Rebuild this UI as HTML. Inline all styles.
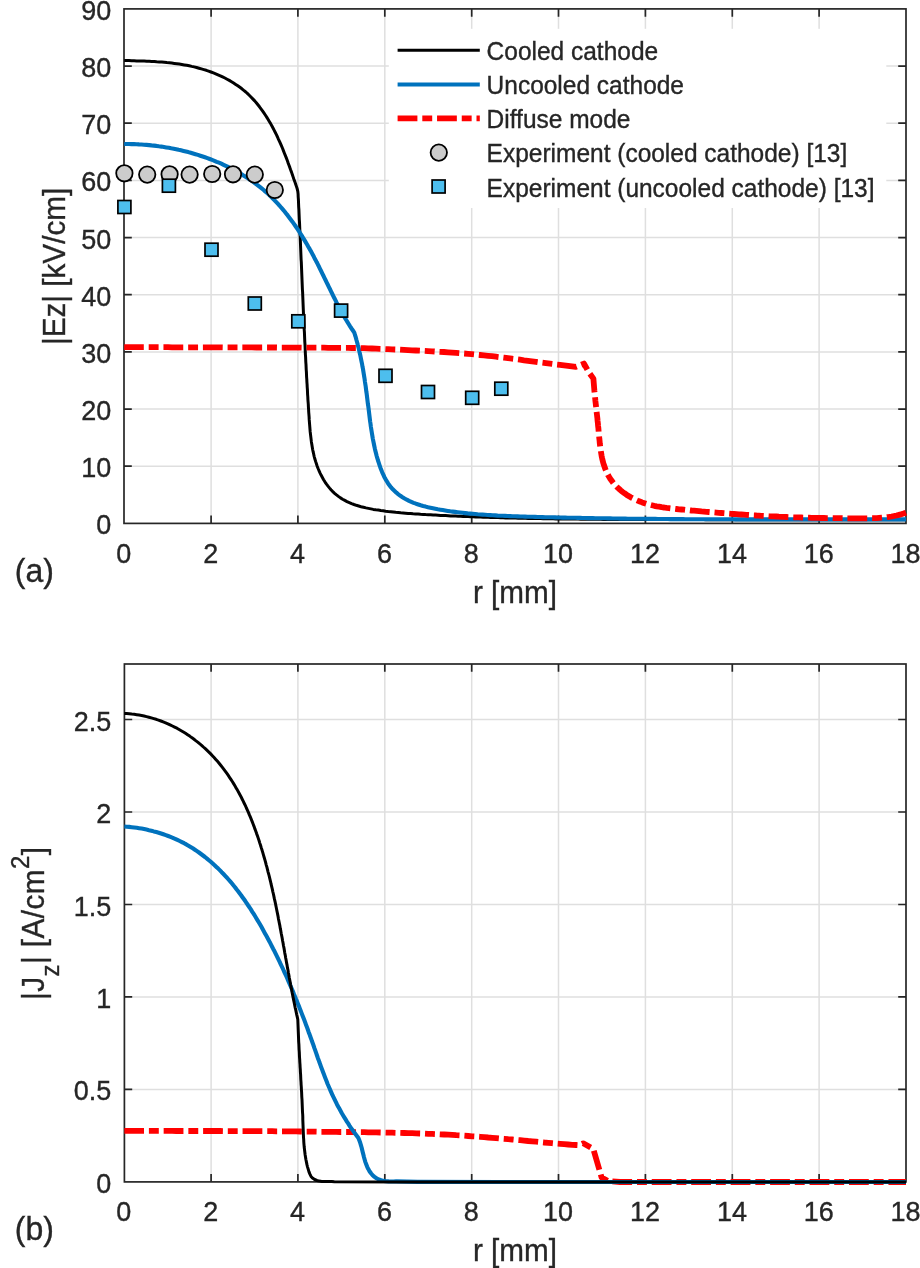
<!DOCTYPE html>
<html lang="en"><head><meta charset="utf-8"><title>Cathode field and current density</title>
<style>html,body{margin:0;padding:0;background:#fff}body{width:920px;height:1268px;overflow:hidden}svg{display:block}text{font-family:"Liberation Sans", sans-serif;fill:#262626;stroke:#262626;stroke-width:.35px}</style></head><body>
<svg width="920" height="1268" viewBox="0 0 920 1268">
<rect width="920" height="1268" fill="#fff"/>
<path d="M211.1 8.9V523.4M297.9 8.9V523.4M384.8 8.9V523.4M471.7 8.9V523.4M558.5 8.9V523.4M645.4 8.9V523.4M732.3 8.9V523.4M819.1 8.9V523.4M124.2 466.2H906M124.2 409.1H906M124.2 351.9H906M124.2 294.7H906M124.2 237.6H906M124.2 180.4H906M124.2 123.2H906M124.2 66.1H906" stroke="#dfdfdf" stroke-width="1.5" fill="none"/>
<clipPath id="ca"><rect x="124.2" y="8.9" width="783" height="514.5"/></clipPath>
<rect x="388.8" y="28.8" width="497.5" height="179.2" fill="#fff"/>
<path d="M211.1 523.4v-7.8M211.1 8.9v7.8M297.9 523.4v-7.8M297.9 8.9v7.8M384.8 523.4v-7.8M384.8 8.9v7.8M471.7 523.4v-7.8M471.7 8.9v7.8M558.5 523.4v-7.8M558.5 8.9v7.8M645.4 523.4v-7.8M645.4 8.9v7.8M732.3 523.4v-7.8M732.3 8.9v7.8M819.1 523.4v-7.8M819.1 8.9v7.8M124 466.2h7.8M906 466.2h-7.8M124 409.1h7.8M906 409.1h-7.8M124 351.9h7.8M906 351.9h-7.8M124 294.7h7.8M906 294.7h-7.8M124 237.6h7.8M906 237.6h-7.8M124 180.4h7.8M906 180.4h-7.8M124 123.2h7.8M906 123.2h-7.8M124 66.1h7.8M906 66.1h-7.8" stroke="#262626" stroke-width="1.7" fill="none"/>
<rect x="124" y="8.9" width="782" height="514.5" fill="none" stroke="#262626" stroke-width="1.7"/>
<g clip-path="url(#ca)" fill="none" stroke-linejoin="round">
<path d="M124 60.5L126.5 60.6L129 60.6L131.6 60.7L134.1 60.8L136.6 60.9L139.1 61L141.6 61L144.2 61.1L146.7 61.2L149.2 61.3L151.7 61.5L154.2 61.6L156.7 61.8L159.2 61.9L161.8 62.1L164.3 62.3L166.8 62.6L169.3 62.8L171.8 63.1L174.3 63.4L176.8 63.7L179.3 64.1L181.8 64.5L184.3 64.9L186.7 65.3L189.2 65.8L191.7 66.4L194.1 66.9L196.6 67.5L199 68.2L201.4 68.9L203.9 69.6L206.3 70.3L208.6 71.1L211 72L213.4 72.9L215.7 73.8L218 74.8L220.3 75.8L222.6 76.9L224.9 78L227.1 79.2L229.3 80.4L231.5 81.7L233.6 83L235.7 84.4L237.8 85.8L239.9 87.3L241.9 88.8L243.8 90.4L245.8 92L247.6 93.7L249.5 95.5L251.2 97.2L253 99.1L254.7 100.9L256.3 102.8L257.9 104.8L259.5 106.8L261 108.8L262.5 110.8L263.9 112.9L265.3 115L266.7 117.1L268 119.2L269.3 121.4L270.6 123.6L271.8 125.8L273 128L274.1 130.2L275.3 132.5L276.4 134.7L277.5 137L278.5 139.3L279.6 141.6L280.6 143.9L281.6 146.2L282.6 148.5L283.5 150.9L284.4 153.2L285.4 155.6L286.3 157.9L287.2 160.3L288 162.6L288.9 165L289.8 167.4L290.6 169.7L291.5 172.1L292.3 174.5L293.1 176.9L293.9 179.3L294.8 181.6L295.6 184L296.4 186.4L297.2 188.8L297.8 191.4L298.1 194.2L298.2 197L298.4 199.5L298.5 202L298.6 204.5L298.7 207L298.9 209.5L299 212L299.1 214.5L299.2 217L299.3 219.5L299.5 222L299.6 224.5L299.7 227L299.8 229.5L299.9 232L300 234.5L300.2 237L300.3 239.5L300.4 242L300.5 244.5L300.6 247L300.7 249.5L300.8 252L300.9 254.5L301 257L301.1 259.5L301.3 262L301.4 264.5L301.5 267L301.6 269.5L301.7 272L301.8 274.5L301.9 277L302 279.5L302.1 282L302.2 284.5L302.3 287L302.4 289.5L302.6 292L302.7 294.5L302.8 297L302.9 299.5L303 302L303.1 304.5L303.2 307L303.3 309.5L303.4 312L303.5 314.5L303.7 317L303.8 319.5L303.9 322L304 324.5L304.1 327L304.2 329.5L304.4 332L304.5 334.5L304.6 337L304.7 339.5L304.8 342L305 344.5L305.1 347L305.2 349.5L305.3 352L305.4 354.5L305.6 357L305.7 359.5L305.8 362L306 364.5L306.1 367L306.2 369.5L306.4 372L306.5 374.5L306.6 377L306.8 379.5L306.9 382L307.1 384.5L307.2 387L307.4 389.5L307.5 392L307.6 394.5L307.8 397L307.9 399.5L308.1 402L308.3 404.5L308.4 407L308.6 409.5L308.7 412L308.9 414.4L309.1 416.9L309.2 419.4L309.4 421.9L309.6 424.4L309.8 426.9L310 429.4L310.2 431.9L310.5 434.4L310.8 436.9L311.1 439.4L311.4 441.9L311.8 444.3L312.2 446.8L312.6 449.3L313.1 451.7L313.7 454.2L314.2 456.6L314.9 459L315.6 461.4L316.4 463.8L317.2 466.2L318.1 468.5L319.1 470.8L320.1 473.1L321.2 475.3L322.4 477.5L323.6 479.7L324.9 481.8L326.3 483.9L327.8 485.9L329.4 487.9L331 489.8L332.8 491.6L334.6 493.3L336.5 494.9L338.4 496.4L340.5 497.9L342.6 499.2L344.8 500.4L347 501.6L349.3 502.6L351.6 503.6L354 504.5L356.3 505.3L358.7 506L361.1 506.7L363.5 507.3L366 507.9L368.4 508.4L370.9 508.9L373.3 509.4L375.8 509.8L378.3 510.1L380.8 510.5L383.2 510.8L385.7 511.2L388.2 511.5L390.7 511.7L393.2 512L395.7 512.3L398.2 512.5L400.7 512.8L403.1 513L405.6 513.2L408.1 513.4L410.6 513.6L413.1 513.8L415.6 513.9L418.1 514.1L420.6 514.3L423.1 514.4L425.6 514.6L428.1 514.7L430.6 514.8L433.1 515L435.6 515.1L438.1 515.2L440.6 515.4L443.1 515.5L445.6 515.6L448.1 515.7L450.6 515.9L453.1 516L455.6 516.1L458.1 516.2L460.6 516.3L463.1 516.4L465.6 516.5L468.1 516.6L470.6 516.7L473.1 516.8L475.6 516.9L478.1 517L480.6 517.1L483.1 517.2L485.6 517.2L488.1 517.3L490.6 517.4L493.1 517.5L495.6 517.6L498.1 517.6L500.6 517.7L503.1 517.8L505.6 517.9L508.1 517.9L510.6 518L513.1 518L515.6 518.1L518.1 518.2L520.6 518.2L523.1 518.3L525.6 518.3L528.1 518.4L530.6 518.4L533.1 518.5L535.6 518.5L538.1 518.6L540.6 518.6L543.1 518.7L545.6 518.7L548.2 518.8L550.7 518.8L553.2 518.8L555.7 518.9L558.2 518.9L560.7 518.9L563.2 519L565.7 519L568.2 519L570.7 519.1L573.2 519.1L575.7 519.1L578.2 519.1L580.7 519.2L583.2 519.2L585.7 519.2L588.2 519.2L590.7 519.3L593.2 519.3L595.7 519.3L598.2 519.3L600.7 519.3L603.2 519.4L605.7 519.4L608.2 519.4L610.7 519.4L613.2 519.4L615.7 519.4L618.2 519.4L620.7 519.4L623.2 519.5L625.7 519.5L628.2 519.5L630.7 519.5L633.2 519.5L635.7 519.5L638.2 519.5L640.7 519.5L643.2 519.5L645.7 519.5L648.2 519.5L650.7 519.5L653.3 519.6L655.8 519.6L658.3 519.6L660.8 519.6L663.3 519.6L665.8 519.6L668.3 519.6L670.8 519.6L673.3 519.6L675.8 519.6L678.3 519.6L680.8 519.6L683.3 519.6L685.8 519.6L688.3 519.6L690.8 519.6L693.3 519.6L695.8 519.6L698.3 519.6L700.8 519.6L703.3 519.6L705.8 519.7L708.3 519.7L710.8 519.7L713.3 519.7L715.8 519.7L718.3 519.7L720.8 519.7L723.3 519.7L725.8 519.7L728.3 519.7L730.8 519.7L733.3 519.7L735.8 519.7L738.3 519.7L740.8 519.7L743.3 519.7L745.8 519.7L748.3 519.7L750.8 519.7L753.3 519.7L755.9 519.7L758.4 519.7L760.9 519.7L763.4 519.7L765.9 519.7L768.4 519.7L770.9 519.7L773.4 519.7L775.9 519.7L778.4 519.7L780.9 519.7L783.4 519.7L785.9 519.7L788.4 519.7L790.9 519.7L793.4 519.7L795.9 519.7L798.4 519.7L800.9 519.7L803.4 519.7L805.9 519.7L808.4 519.8L810.9 519.8L813.4 519.8L815.9 519.8L818.4 519.8L820.9 519.8L823.4 519.8L825.9 519.8L828.4 519.8L830.9 519.8L833.4 519.8L835.9 519.8L838.4 519.8L840.9 519.8L843.4 519.8L845.9 519.8L848.4 519.8L850.9 519.8L853.4 519.8L856 519.8L858.5 519.8L861 519.8L863.5 519.8L866 519.8L868.5 519.8L871 519.8L873.5 519.8L876 519.8L878.5 519.8L881 519.8L883.5 519.8L886 519.8L888.5 519.8L891 519.8L893.5 519.8L896 519.8L898.5 519.8L901 519.8L903.5 519.8L906 519.8" stroke="#000" stroke-width="3"/>
<path d="M124 144L126.5 144L129 144L131.5 144.1L134 144.1L136.5 144.2L139 144.4L141.5 144.5L144 144.7L146.5 144.9L149 145.1L151.5 145.4L153.9 145.6L156.4 145.9L158.9 146.3L161.4 146.6L163.9 147L166.3 147.4L168.8 147.8L171.2 148.3L173.7 148.7L176.2 149.2L178.6 149.8L181 150.3L183.5 150.9L185.9 151.5L188.3 152.1L190.7 152.8L193.1 153.5L195.5 154.2L197.9 154.9L200.3 155.7L202.7 156.5L205 157.3L207.4 158.1L209.7 159L212.1 159.9L214.4 160.8L216.7 161.8L219 162.7L221.3 163.7L223.6 164.8L225.8 165.8L228.1 166.9L230.3 168L232.6 169.2L234.8 170.4L237 171.6L239.1 172.8L241.3 174.1L243.4 175.4L245.5 176.7L247.6 178.1L249.7 179.5L251.8 180.9L253.8 182.3L255.8 183.8L257.8 185.3L259.8 186.9L261.7 188.4L263.7 190L265.5 191.7L267.4 193.3L269.3 195L271.1 196.8L272.8 198.5L274.6 200.3L276.3 202.1L278 203.9L279.7 205.8L281.3 207.7L283 209.6L284.6 211.5L286.1 213.4L287.7 215.4L289.2 217.4L290.7 219.4L292.2 221.4L293.6 223.4L295.1 225.5L296.5 227.6L297.9 229.6L299.2 231.7L300.6 233.8L301.9 235.9L303.2 238.1L304.5 240.2L305.8 242.4L307.1 244.5L308.3 246.7L309.6 248.9L310.8 251.1L312 253.2L313.2 255.4L314.3 257.7L315.5 259.9L316.6 262.1L317.8 264.3L318.9 266.5L320 268.8L321.1 271L322.2 273.3L323.3 275.5L324.4 277.8L325.5 280L326.6 282.3L327.7 284.5L328.8 286.8L329.9 289L331 291.3L332.1 293.5L333.2 295.8L334.3 298L335.4 300.2L336.5 302.5L337.7 304.7L338.8 306.9L340 309.1L341.2 311.3L342.4 313.5L343.6 315.7L344.9 317.8L346.2 320L347.5 322.1L348.8 324.3L350.1 326.4L351.5 328.5L352.9 330.5L354.3 332.6L355 335L355.8 337.4L356.4 339.8L357.1 342.2L357.7 344.6L358.4 347.1L359 349.5L359.5 351.9L360.1 354.4L360.6 356.8L361.1 359.3L361.6 361.8L362.1 364.2L362.5 366.7L363 369.1L363.4 371.6L363.8 374.1L364.2 376.6L364.6 379L364.9 381.5L365.3 384L365.7 386.5L366 389L366.3 391.4L366.7 393.9L367 396.4L367.3 398.9L367.6 401.4L367.9 403.9L368.3 406.4L368.6 408.8L368.9 411.3L369.2 413.8L369.5 416.3L369.8 418.8L370.1 421.3L370.5 423.8L370.8 426.2L371.2 428.7L371.6 431.2L372 433.7L372.4 436.1L372.8 438.6L373.3 441.1L373.8 443.5L374.3 446L374.8 448.4L375.4 450.9L376 453.3L376.6 455.7L377.3 458.1L378 460.5L378.8 462.9L379.6 465.3L380.4 467.7L381.3 470L382.2 472.3L383.3 474.6L384.3 476.9L385.5 479.1L386.8 481.3L388.1 483.4L389.6 485.4L391.1 487.4L392.8 489.3L394.6 491L396.4 492.7L398.4 494.3L400.4 495.8L402.5 497.2L404.6 498.5L406.8 499.7L409 500.8L411.3 501.8L413.6 502.8L416 503.7L418.3 504.5L420.7 505.3L423.1 506L425.6 506.6L428 507.3L430.4 507.8L432.9 508.3L435.3 508.8L437.8 509.3L440.3 509.7L442.7 510.1L445.2 510.5L447.7 510.9L450.2 511.3L452.7 511.6L455.1 511.9L457.6 512.2L460.1 512.5L462.6 512.8L465.1 513.1L467.6 513.4L470.1 513.6L472.6 513.8L475.1 514L477.6 514.3L480.1 514.5L482.6 514.6L485.1 514.8L487.6 515L490.1 515.1L492.6 515.3L495.1 515.4L497.6 515.6L500.1 515.7L502.6 515.8L505.1 515.9L507.6 516L510.1 516.1L512.6 516.2L515.1 516.3L517.6 516.4L520.1 516.5L522.6 516.5L525.1 516.6L527.6 516.7L530.1 516.8L532.6 516.8L535.1 516.9L537.6 517L540.1 517L542.7 517.1L545.2 517.2L547.7 517.2L550.2 517.3L552.7 517.3L555.2 517.4L557.7 517.5L560.2 517.5L562.7 517.6L565.2 517.6L567.7 517.7L570.2 517.7L572.7 517.8L575.2 517.8L577.7 517.9L580.2 517.9L582.7 518L585.2 518L587.8 518.1L590.3 518.1L592.8 518.1L595.3 518.2L597.8 518.2L600.3 518.3L602.8 518.3L605.3 518.3L607.8 518.4L610.3 518.4L612.8 518.5L615.3 518.5L617.8 518.5L620.3 518.6L622.8 518.6L625.3 518.6L627.8 518.7L630.3 518.7L632.9 518.7L635.4 518.7L637.9 518.8L640.4 518.8L642.9 518.8L645.4 518.8L647.9 518.9L650.4 518.9L652.9 518.9L655.4 518.9L657.9 519L660.4 519L662.9 519L665.4 519L667.9 519L670.4 519.1L672.9 519.1L675.5 519.1L678 519.1L680.5 519.1L683 519.1L685.5 519.2L688 519.2L690.5 519.2L693 519.2L695.5 519.2L698 519.2L700.5 519.2L703 519.3L705.5 519.3L708 519.3L710.5 519.3L713 519.3L715.5 519.3L718.1 519.3L720.6 519.3L723.1 519.3L725.6 519.3L728.1 519.3L730.6 519.3L733.1 519.3L735.6 519.4L738.1 519.4L740.6 519.4L743.1 519.4L745.6 519.4L748.1 519.4L750.6 519.4L753.1 519.4L755.6 519.4L758.1 519.4L760.7 519.4L763.2 519.4L765.7 519.4L768.2 519.4L770.7 519.4L773.2 519.4L775.7 519.4L778.2 519.4L780.7 519.4L783.2 519.4L785.7 519.4L788.2 519.4L790.7 519.4L793.2 519.4L795.7 519.4L798.2 519.4L800.7 519.4L803.3 519.4L805.8 519.4L808.3 519.4L810.8 519.4L813.3 519.4L815.8 519.4L818.3 519.4L820.8 519.4L823.3 519.4L825.8 519.4L828.3 519.4L830.8 519.4L833.3 519.4L835.8 519.4L838.3 519.4L840.8 519.4L843.4 519.4L845.9 519.4L848.4 519.4L850.9 519.4L853.4 519.4L855.9 519.4L858.4 519.4L860.9 519.4L863.4 519.4L865.9 519.4L868.4 519.4L870.9 519.4L873.4 519.4L875.9 519.4L878.4 519.4L880.9 519.4L883.4 519.4L886 519.4L888.5 519.4L891 519.4L893.5 519.4L896 519.4L898.5 519.4L901 519.4L903.5 519.4L906 519.4" stroke="#0072bd" stroke-width="4.1"/>
<path d="M124 347.2L128 347.2L132 347.2L136 347.2L140 347.2L144 347.2L148 347.2L152 347.2L156 347.2L160 347.2L164 347.2L168 347.2L172 347.3L176 347.3L180 347.3L184 347.3L188 347.3L192 347.3L196 347.3L200 347.3L204 347.3L208 347.3L212 347.3L216 347.3L220 347.3L224 347.4L228 347.4L232 347.4L236 347.4L240 347.4L244 347.4L248 347.4L252 347.4L256 347.5L260 347.5L264 347.5L268 347.5L272 347.5L276 347.5L280 347.6L284 347.6L288 347.6L292 347.6L296 347.6L300 347.6L304 347.7L308 347.7L312 347.7L316 347.7L320 347.7L324 347.7L328 347.8L332 347.8L336 347.8L340 347.9L344 347.9L348 347.9L352 348L356 348L360 348.1L364 348.2L368 348.3L372 348.5L376 348.7L380 348.9L384 349L388 349.2L392 349.4L396 349.5L400 349.7L404 349.9L408 350.1L412 350.3L416 350.5L420 350.7L424 350.9L428 351.1L432 351.3L436 351.6L440 351.8L444 352L448 352.3L452 352.6L456 352.9L460 353.2L464 353.5L468 353.8L472 354.2L476 354.6L480 355L484 355.4L488 355.8L492 356.2L496 356.7L500 357.2L504 357.7L508 358.2L512 358.7L516 359.2L520 359.7L524 360.3L528 360.8L532 361.3L536 361.8L540 362.4L544 362.9L548 363.4L552 363.9L556 364.4L560 364.8L564 365.3L568 365.8L572 366.4L575.8 366.9L584 363.6L588.6 372L593.4 378.6L593.6 381.1L593.8 383.6L594 386.1L594.2 388.6L594.4 391.1L594.7 393.6L594.9 396.1L595.2 398.6L595.4 401L595.7 403.5L596 406L596.3 408.5L596.5 411L596.8 413.5L597.1 416L597.4 418.5L597.6 421L597.9 423.5L598.1 426L598.4 428.4L598.6 430.9L598.8 433.4L599.1 435.9L599.3 438.4L599.6 440.9L599.8 443.4L600.1 445.9L600.4 448.4L600.8 450.9L601.2 453.3L601.6 455.8L602.1 458.2L602.7 460.7L603.3 463.1L604.1 465.5L604.9 467.9L605.8 470.2L606.8 472.5L607.9 474.8L609.1 476.9L610.4 479.1L611.9 481.1L613.4 483.1L615.1 485L616.8 486.8L618.6 488.5L620.5 490.2L622.4 491.7L624.4 493.2L626.5 494.7L628.6 496L630.8 497.3L633 498.4L635.2 499.6L637.5 500.6L639.8 501.5L642.2 502.4L644.5 503.2L646.9 504L649.4 504.6L651.8 505.2L654.2 505.8L656.7 506.3L659.1 506.7L661.6 507.2L664.1 507.5L666.6 507.9L669.1 508.2L671.5 508.5L674 508.7L676.5 509L679 509.3L681.5 509.5L684 509.7L686.5 510L689 510.2L691.5 510.5L694 510.7L696.5 510.9L699 511.1L701.5 511.4L704 511.6L706.5 511.8L708.9 512L711.4 512.2L713.9 512.4L716.4 512.6L718.9 512.8L721.4 513L723.9 513.2L726.4 513.4L728.9 513.6L731.4 513.8L733.9 514L736.4 514.2L738.9 514.4L741.4 514.5L743.9 514.7L746.4 514.9L748.9 515L751.4 515.2L753.9 515.3L756.4 515.5L758.9 515.6L761.4 515.8L763.9 515.9L766.4 516L768.9 516.2L771.4 516.3L773.9 516.4L776.4 516.5L778.9 516.7L781.4 516.8L783.9 516.9L786.4 517L788.9 517.1L791.4 517.2L793.9 517.3L796.4 517.3L798.9 517.4L801.4 517.5L803.9 517.6L806.5 517.6L809 517.7L811.5 517.8L814 517.8L816.5 517.9L819 517.9L821.5 518L824 518L826.5 518.1L829 518.1L831.5 518.1L834 518.2L836.5 518.2L839 518.2L841.5 518.2L844 518.3L846.5 518.3L849 518.3L851.5 518.3L854 518.3L856.5 518.3L859 518.3L861.5 518.3L864.1 518.3L866.6 518.3L869.1 518.3L871.6 518.2L874.1 518.2L876.6 518.1L879.1 517.9L881.6 517.7L884.1 517.5L886.6 517.2L889 516.9L891.5 516.5L894 516L896.4 515.5L898.9 514.9L901.3 514.2L903.6 513.5L906 512.6" stroke="#ff0000" stroke-width="5.8" stroke-dasharray="19.8 4.9 9.9 4.85"/>
</g>
<g stroke="#000" stroke-width="1.7">
<circle cx="124.4" cy="173.3" r="8.2" stroke-width="1.8" fill="#cccccc"/>
<circle cx="147.2" cy="174.6" r="8.2" stroke-width="1.8" fill="#cccccc"/>
<circle cx="169.6" cy="174.3" r="8.2" stroke-width="1.8" fill="#cccccc"/>
<circle cx="189.6" cy="174.6" r="8.2" stroke-width="1.8" fill="#cccccc"/>
<circle cx="212.2" cy="174" r="8.2" stroke-width="1.8" fill="#cccccc"/>
<circle cx="233" cy="174.3" r="8.2" stroke-width="1.8" fill="#cccccc"/>
<circle cx="254.8" cy="174.6" r="8.2" stroke-width="1.8" fill="#cccccc"/>
<circle cx="274.8" cy="190" r="8.2" stroke-width="1.8" fill="#cccccc"/>
<rect x="117.9" y="200.5" width="13" height="13" fill="#4dbeee"/>
<rect x="162.4" y="179.2" width="13" height="13" fill="#4dbeee"/>
<rect x="205" y="243.2" width="13" height="13" fill="#4dbeee"/>
<rect x="248.3" y="297" width="13" height="13" fill="#4dbeee"/>
<rect x="291.8" y="314.8" width="13" height="13" fill="#4dbeee"/>
<rect x="334.6" y="304.1" width="13" height="13" fill="#4dbeee"/>
<rect x="379" y="369.3" width="13" height="13" fill="#4dbeee"/>
<rect x="421.5" y="385.5" width="13" height="13" fill="#4dbeee"/>
<rect x="465.7" y="391.3" width="13" height="13" fill="#4dbeee"/>
<rect x="494.8" y="382.2" width="13" height="13" fill="#4dbeee"/>
</g>
<path d="M397.6 50.2H479.8" stroke="#000" stroke-width="3"/>
<path d="M397.6 84.5H479.8" stroke="#0072bd" stroke-width="4.1"/>
<path d="M397.6 118.4H479.8" stroke="#ff0000" stroke-width="5.8" stroke-dasharray="19.8 4.9 9.9 4.85"/>
<circle cx="438.8" cy="152.6" r="8.2" fill="#cccccc" stroke="#000" stroke-width="1.8"/>
<rect x="432.1" y="180" width="13" height="13" fill="#4dbeee" stroke="#000" stroke-width="1.7"/>
<text transform="translate(486.6 59.6) scale(1 1.043)" font-size="24.5" fill="#000" stroke="#000">Cooled cathode</text>
<text transform="translate(486.6 93.9) scale(1 1.043)" font-size="24.5" fill="#000" stroke="#000">Uncooled cathode</text>
<text transform="translate(486.6 127.8) scale(1 1.043)" font-size="24.5" fill="#000" stroke="#000">Diffuse mode</text>
<text transform="translate(486.6 162.2) scale(1 1.043)" font-size="24.5" fill="#000" stroke="#000">Experiment (cooled cathode) [13]</text>
<text transform="translate(486.6 196.6) scale(1 1.043)" font-size="24.5" fill="#000" stroke="#000">Experiment (uncooled cathode) [13]</text>
<text transform="translate(123.8 562.8) scale(1 1.043)" font-size="27.0" text-anchor="middle">0</text>
<text transform="translate(210.7 562.8) scale(1 1.043)" font-size="27.0" text-anchor="middle">2</text>
<text transform="translate(297.5 562.8) scale(1 1.043)" font-size="27.0" text-anchor="middle">4</text>
<text transform="translate(384.4 562.8) scale(1 1.043)" font-size="27.0" text-anchor="middle">6</text>
<text transform="translate(471.3 562.8) scale(1 1.043)" font-size="27.0" text-anchor="middle">8</text>
<text transform="translate(558.1 562.8) scale(1 1.043)" font-size="27.0" text-anchor="middle">10</text>
<text transform="translate(645 562.8) scale(1 1.043)" font-size="27.0" text-anchor="middle">12</text>
<text transform="translate(731.9 562.8) scale(1 1.043)" font-size="27.0" text-anchor="middle">14</text>
<text transform="translate(818.7 562.8) scale(1 1.043)" font-size="27.0" text-anchor="middle">16</text>
<text transform="translate(905.6 562.8) scale(1 1.043)" font-size="27.0" text-anchor="middle">18</text>
<text transform="translate(111.3 534.4) scale(1 1.043)" font-size="27.0" text-anchor="end">0</text>
<text transform="translate(111.3 477.2) scale(1 1.043)" font-size="27.0" text-anchor="end">10</text>
<text transform="translate(111.3 420.1) scale(1 1.043)" font-size="27.0" text-anchor="end">20</text>
<text transform="translate(111.3 362.9) scale(1 1.043)" font-size="27.0" text-anchor="end">30</text>
<text transform="translate(111.3 305.7) scale(1 1.043)" font-size="27.0" text-anchor="end">40</text>
<text transform="translate(111.3 248.6) scale(1 1.043)" font-size="27.0" text-anchor="end">50</text>
<text transform="translate(111.3 191.4) scale(1 1.043)" font-size="27.0" text-anchor="end">60</text>
<text transform="translate(111.3 134.2) scale(1 1.043)" font-size="27.0" text-anchor="end">70</text>
<text transform="translate(111.3 77.1) scale(1 1.043)" font-size="27.0" text-anchor="end">80</text>
<text transform="translate(111.3 19.9) scale(1 1.043)" font-size="27.0" text-anchor="end">90</text>
<text transform="translate(515 602.6) scale(1 1.043)" font-size="29.7" text-anchor="middle">r [mm]</text>
<text transform="translate(65.3 266.4) rotate(-90) scale(1 1.043)" font-size="29.7" text-anchor="middle">|Ez| [kV/cm]</text>
<text transform="translate(14.8 582) scale(1 1.043)" font-size="32.0" fill="#000" stroke="#000">(a)</text>
<path d="M211.1 664V1181.9M297.9 664V1181.9M384.8 664V1181.9M471.7 664V1181.9M558.5 664V1181.9M645.4 664V1181.9M732.3 664V1181.9M819.1 664V1181.9M124.2 1089.4H906M124.2 996.9H906M124.2 904.5H906M124.2 812H906M124.2 719.5H906" stroke="#dfdfdf" stroke-width="1.5" fill="none"/>
<clipPath id="cb"><rect x="124.2" y="664" width="783" height="521.9"/></clipPath>
<path d="M211.1 1181.9v-7.8M211.1 664v7.8M297.9 1181.9v-7.8M297.9 664v7.8M384.8 1181.9v-7.8M384.8 664v7.8M471.7 1181.9v-7.8M471.7 664v7.8M558.5 1181.9v-7.8M558.5 664v7.8M645.4 1181.9v-7.8M645.4 664v7.8M732.3 1181.9v-7.8M732.3 664v7.8M819.1 1181.9v-7.8M819.1 664v7.8M124.4 1089.4h7.8M906 1089.4h-7.8M124.4 996.9h7.8M906 996.9h-7.8M124.4 904.5h7.8M906 904.5h-7.8M124.4 812h7.8M906 812h-7.8M124.4 719.5h7.8M906 719.5h-7.8" stroke="#262626" stroke-width="1.7" fill="none"/>
<rect x="124.4" y="664" width="781.6" height="517.9" fill="none" stroke="#262626" stroke-width="1.7"/>
<g clip-path="url(#cb)" fill="none" stroke-linejoin="round">
<path d="M124.2 1130.9L128.2 1130.9L132.2 1130.9L136.2 1130.9L140.2 1130.9L144.2 1130.9L148.2 1130.9L152.2 1130.9L156.2 1130.9L160.2 1130.9L164.2 1130.9L168.2 1130.9L172.2 1130.9L176.2 1131L180.2 1131L184.2 1131L188.2 1131L192.2 1131L196.2 1131L200.2 1131L204.2 1131L208.2 1131L212.2 1131L216.2 1131L220.2 1131L224.2 1131.1L228.2 1131.1L232.2 1131.1L236.2 1131.1L240.2 1131.1L244.2 1131.1L248.2 1131.1L252.2 1131.1L256.2 1131.2L260.2 1131.2L264.2 1131.2L268.2 1131.2L272.2 1131.2L276.2 1131.3L280.2 1131.3L284.2 1131.3L288.2 1131.3L292.2 1131.4L296.2 1131.4L300.2 1131.5L304.2 1131.6L308.2 1131.6L312.2 1131.7L316.2 1131.7L320.2 1131.8L324.2 1131.8L328.2 1131.9L332.2 1131.9L336.2 1131.9L340.2 1132L344.2 1132L348.2 1132L352.2 1132.1L356.2 1132.1L360.2 1132.2L364.2 1132.2L368.2 1132.3L372.2 1132.4L376.2 1132.4L380.2 1132.5L384.2 1132.6L388.2 1132.7L392.2 1132.7L396.2 1132.8L400.2 1132.9L404.2 1133L408.2 1133.1L412.2 1133.2L416.2 1133.4L420.2 1133.5L424.2 1133.6L428.2 1133.8L432.2 1133.9L436.2 1134.1L440.2 1134.3L444.2 1134.5L448.2 1134.7L452.2 1134.9L456.2 1135.2L460.2 1135.4L464.2 1135.7L468.2 1136L472.2 1136.3L476.2 1136.5L480.2 1136.8L484.2 1137.1L488.2 1137.5L492.2 1137.8L496.2 1138.1L500.2 1138.5L504.2 1138.8L508.2 1139.2L512.2 1139.5L516.2 1139.9L520.2 1140.2L524.2 1140.6L528.2 1141L532.2 1141.3L536.2 1141.7L540.2 1142.1L544.2 1142.5L548.2 1142.8L552.2 1143.2L556.2 1143.6L560.2 1143.9L564.2 1144.2L568.2 1144.5L572.2 1144.8L576.2 1145L579.3 1145.2L583.2 1143.3L593.3 1149L601.6 1177.5L608 1181L620 1182L906 1182" stroke="#ff0000" stroke-width="5.8" stroke-dasharray="19.8 4.9 9.9 4.85"/>
<path d="M124.2 826.5L126.7 826.7L129.2 826.9L131.7 827.2L134.2 827.5L136.7 827.8L139.1 828.2L141.6 828.6L144.1 829.1L146.5 829.6L149 830.2L151.4 830.7L153.8 831.4L156.3 832L158.7 832.7L161.1 833.5L163.4 834.3L165.8 835.1L168.2 836L170.5 836.9L172.8 837.8L175.1 838.8L177.4 839.9L179.7 841L181.9 842.1L184.1 843.2L186.3 844.4L188.5 845.7L190.6 847L192.8 848.3L194.9 849.7L197 851.1L199 852.5L201 854L203 855.5L205 857L207 858.6L208.9 860.2L210.8 861.8L212.7 863.5L214.6 865.2L216.4 866.9L218.2 868.6L220 870.4L221.7 872.2L223.5 874L225.2 875.8L226.9 877.7L228.5 879.5L230.2 881.4L231.8 883.3L233.4 885.3L235 887.2L236.5 889.2L238.1 891.2L239.6 893.2L241.1 895.2L242.5 897.2L244 899.3L245.4 901.3L246.8 903.4L248.2 905.5L249.6 907.5L251 909.7L252.3 911.8L253.7 913.9L255 916L256.3 918.2L257.6 920.3L258.9 922.5L260.1 924.6L261.4 926.8L262.6 929L263.8 931.2L265 933.4L266.2 935.6L267.4 937.8L268.6 940L269.8 942.2L270.9 944.4L272.1 946.7L273.2 948.9L274.4 951.1L275.5 953.4L276.6 955.6L277.7 957.9L278.8 960.1L279.9 962.4L280.9 964.7L282 966.9L283.1 969.2L284.1 971.5L285.2 973.8L286.2 976L287.2 978.3L288.2 980.6L289.2 982.9L290.2 985.2L291.2 987.5L292.2 989.8L293.2 992.1L294.1 994.5L295.1 996.8L296 999.1L297 1001.4L297.9 1003.7L298.9 1006.1L299.8 1008.4L300.7 1010.7L301.6 1013.1L302.5 1015.4L303.4 1017.8L304.3 1020.1L305.2 1022.4L306 1024.8L306.9 1027.1L307.8 1029.5L308.6 1031.9L309.5 1034.2L310.3 1036.6L311.2 1038.9L312 1041.3L312.9 1043.7L313.7 1046L314.5 1048.4L315.4 1050.8L316.2 1053.1L317 1055.5L317.8 1057.9L318.7 1060.2L319.5 1062.6L320.4 1064.9L321.2 1067.3L322.1 1069.6L323 1072L323.9 1074.3L324.8 1076.7L325.7 1079L326.6 1081.3L327.5 1083.7L328.5 1086L329.5 1088.3L330.5 1090.6L331.5 1092.9L332.5 1095.2L333.6 1097.4L334.7 1099.7L335.8 1101.9L336.9 1104.2L338.1 1106.4L339.3 1108.6L340.5 1110.8L341.7 1113L343 1115.2L344.3 1117.3L345.6 1119.4L346.9 1121.6L348.3 1123.7L349.6 1125.8L351 1127.9L352.5 1129.9L353.9 1132L355.4 1134L356.9 1136L358.4 1138L359.3 1140.3L360.2 1142.7L360.9 1145.1L361.6 1147.5L362.2 1150L362.8 1152.4L363.4 1154.8L364 1157.3L364.7 1159.7L365.4 1162.1L366.3 1164.5L367.2 1166.8L368.3 1169.1L369.5 1171.2L371 1173.3L372.6 1175.2L374.5 1176.9L376.5 1178.3L378.8 1179.5L381.1 1180.3L383.6 1180.9L386.1 1181.2L388.6 1181.4L391.1 1181.5L393.6 1181.5L396.1 1181.4L417.8 1181.9L500 1182L906 1182" stroke="#0072bd" stroke-width="4.1"/>
<path d="M124.2 713.5L126.7 713.6L129.2 713.8L131.7 714.1L134.2 714.3L136.7 714.7L139.1 715.1L141.6 715.5L144.1 716L146.5 716.6L148.9 717.2L151.4 717.9L153.8 718.6L156.2 719.3L158.5 720.1L160.9 721L163.2 721.9L165.6 722.8L167.9 723.8L170.1 724.9L172.4 726L174.6 727.1L176.9 728.2L179.1 729.5L181.2 730.7L183.4 732L185.5 733.3L187.6 734.7L189.7 736.1L191.7 737.6L193.7 739L195.7 740.6L197.7 742.1L199.6 743.7L201.6 745.3L203.4 747L205.3 748.7L207.1 750.4L208.9 752.1L210.7 753.9L212.4 755.7L214.1 757.5L215.8 759.4L217.5 761.3L219.1 763.2L220.7 765.2L222.2 767.1L223.7 769.1L225.2 771.1L226.7 773.2L228.1 775.2L229.5 777.3L230.9 779.4L232.3 781.5L233.6 783.6L234.9 785.8L236.1 787.9L237.4 790.1L238.6 792.3L239.8 794.5L241 796.7L242.1 799L243.2 801.2L244.3 803.5L245.4 805.7L246.4 808L247.5 810.3L248.5 812.6L249.4 814.9L250.4 817.2L251.4 819.6L252.3 821.9L253.2 824.2L254.1 826.6L254.9 828.9L255.8 831.3L256.6 833.6L257.5 836L258.3 838.4L259.1 840.8L259.8 843.1L260.6 845.5L261.3 847.9L262.1 850.3L262.8 852.7L263.5 855.1L264.2 857.5L264.9 859.9L265.6 862.4L266.2 864.8L266.9 867.2L267.5 869.6L268.1 872.1L268.8 874.5L269.4 876.9L270 879.3L270.6 881.8L271.1 884.2L271.7 886.7L272.3 889.1L272.8 891.6L273.4 894L273.9 896.4L274.4 898.9L275 901.4L275.5 903.8L276 906.3L276.5 908.7L277 911.2L277.5 913.6L278 916.1L278.4 918.6L278.9 921L279.4 923.5L279.9 925.9L280.3 928.4L280.8 930.9L281.2 933.3L281.7 935.8L282.2 938.3L282.6 940.7L283.1 943.2L283.5 945.7L284 948.1L284.4 950.6L284.8 953.1L285.3 955.5L285.7 958L286.2 960.5L286.6 962.9L287.1 965.4L287.5 967.9L288 970.3L288.4 972.8L288.9 975.3L289.3 977.7L289.8 980.2L290.3 982.7L290.7 985.1L291.2 987.6L291.7 990L292.1 992.5L292.6 995L293.1 997.4L293.6 999.9L294.1 1002.3L294.6 1004.8L295.1 1007.3L295.7 1009.7L296.2 1012.2L296.7 1014.6L297.3 1017.1L297.8 1019.5L297.9 1022L298 1024.5L298.1 1027L298.2 1029.5L298.3 1032L298.4 1034.5L298.5 1037L298.6 1039.5L298.7 1042L298.9 1044.5L299 1047L299.1 1049.5L299.3 1052L299.4 1054.5L299.5 1057L299.7 1059.5L299.8 1062L300 1064.5L300.1 1067L300.3 1069.5L300.4 1072L300.6 1074.5L300.7 1077L300.8 1079.5L301 1082L301.1 1084.5L301.3 1087L301.4 1089.5L301.6 1092L301.7 1094.5L301.8 1097L302 1099.5L302.1 1102L302.2 1104.5L302.3 1107L302.4 1109.5L302.5 1112L302.7 1114.5L302.8 1117L302.8 1119.5L302.9 1122L303 1124.5L303.1 1127L303.2 1129.5L303.3 1132.1L303.4 1134.6L303.5 1137.1L303.7 1139.6L303.8 1142.1L304 1144.6L304.2 1147L304.5 1149.5L304.8 1152L305.1 1154.5L305.5 1157L305.9 1159.5L306.4 1161.9L306.9 1164.4L307.5 1166.8L308.2 1169.2L308.9 1171.6L309.8 1173.9L310.9 1176.2L312.5 1178.1L314.6 1179.5L316.9 1180.5L319.3 1181.1L321.8 1181.4L324.3 1181.5L326.8 1181.5L329.3 1181.5L331.8 1181.5L334.3 1181.7L400 1182L906 1182" stroke="#000" stroke-width="3"/>
</g>
<text transform="translate(123.8 1221.3) scale(1 1.043)" font-size="27.0" text-anchor="middle">0</text>
<text transform="translate(210.7 1221.3) scale(1 1.043)" font-size="27.0" text-anchor="middle">2</text>
<text transform="translate(297.5 1221.3) scale(1 1.043)" font-size="27.0" text-anchor="middle">4</text>
<text transform="translate(384.4 1221.3) scale(1 1.043)" font-size="27.0" text-anchor="middle">6</text>
<text transform="translate(471.3 1221.3) scale(1 1.043)" font-size="27.0" text-anchor="middle">8</text>
<text transform="translate(558.1 1221.3) scale(1 1.043)" font-size="27.0" text-anchor="middle">10</text>
<text transform="translate(645 1221.3) scale(1 1.043)" font-size="27.0" text-anchor="middle">12</text>
<text transform="translate(731.9 1221.3) scale(1 1.043)" font-size="27.0" text-anchor="middle">14</text>
<text transform="translate(818.7 1221.3) scale(1 1.043)" font-size="27.0" text-anchor="middle">16</text>
<text transform="translate(905.6 1221.3) scale(1 1.043)" font-size="27.0" text-anchor="middle">18</text>
<text transform="translate(111.3 1192.9) scale(1 1.043)" font-size="27.0" text-anchor="end">0</text>
<text transform="translate(111.3 1100.4) scale(1 1.043)" font-size="27.0" text-anchor="end">0.5</text>
<text transform="translate(111.3 1007.9) scale(1 1.043)" font-size="27.0" text-anchor="end">1</text>
<text transform="translate(111.3 915.5) scale(1 1.043)" font-size="27.0" text-anchor="end">1.5</text>
<text transform="translate(111.3 823) scale(1 1.043)" font-size="27.0" text-anchor="end">2</text>
<text transform="translate(111.3 730.5) scale(1 1.043)" font-size="27.0" text-anchor="end">2.5</text>
<text transform="translate(515 1261.1) scale(1 1.043)" font-size="29.7" text-anchor="middle">r [mm]</text>
<text transform="translate(43.6 923.2) rotate(-90) scale(1 1.043)" font-size="29.7" text-anchor="middle" letter-spacing="0.45">|J<tspan font-size="24" dy="14.7">z</tspan><tspan dy="-14.7">| [A/cm</tspan><tspan font-size="24" dy="-13.7">2</tspan><tspan dy="13.7">]</tspan></text>
<text transform="translate(14.8 1240.1) scale(1 1.043)" font-size="32.0" fill="#000" stroke="#000">(b)</text>
</svg></body></html>
